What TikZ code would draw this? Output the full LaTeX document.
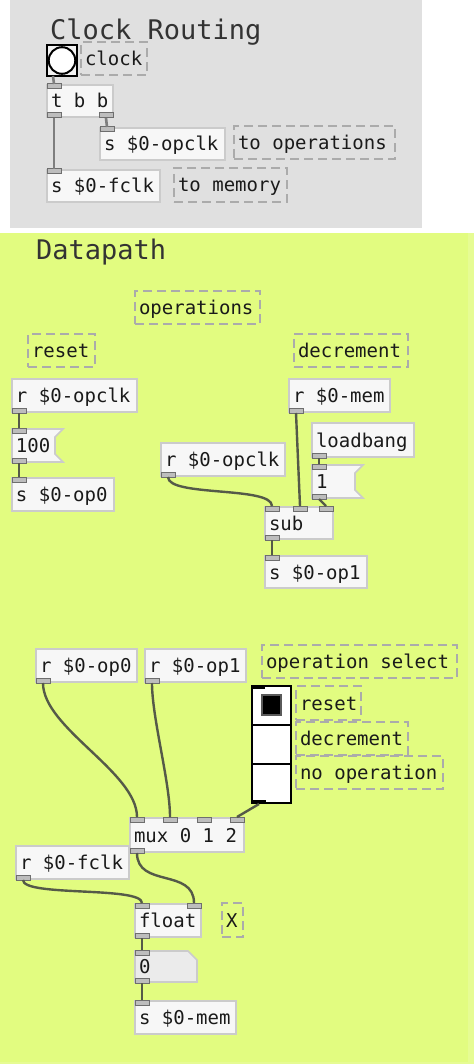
\documentclass[tikz,border=0pt]{standalone}
\usepackage{fontspec}
\newfontfamily\pdmono{DejaVu Sans Mono}
\usetikzlibrary{calc}
\definecolor{grayc}{HTML}{E0E0E0}
\definecolor{yelc}{HTML}{E2FC80}
\definecolor{boxfill}{HTML}{F7F7F7}
\definecolor{boxline}{HTML}{CBCBCB}
\definecolor{cmtline}{HTML}{ABABAB}
\definecolor{portfill}{HTML}{BDBDBD}
\definecolor{portline}{HTML}{6E6E6E}
\definecolor{cordy}{HTML}{555A48}
\definecolor{cordg}{HTML}{7E7E7E}
\definecolor{txt}{HTML}{1A1A1A}
\definecolor{titlec}{HTML}{333333}
\definecolor{atomfill}{HTML}{EBEBEB}
\definecolor{bangfill}{HTML}{F2F2F2}
\pgfdeclarelayer{canvas}
\pgfdeclarelayer{shapes}
\pgfsetlayers{canvas,shapes,main}
\tikzset{
  pdtext/.style={anchor=north west, inner xsep=4pt, inner ysep=0pt, outer sep=0pt,
    text height=17pt, text depth=3pt, align=left,
    font=\pdmono\fontsize{19}{22}\selectfont, text=txt},
  sz/.style 2 args={text width=#1, minimum height=#2},
  obj/.style={pdtext, draw=boxline, fill=boxfill, line width=1.6pt},
  cmt/.style={pdtext, draw=cmtline, line width=1.5pt, dash pattern=on 9pt off 5pt},
  msg/.style={pdtext},
  port/.style={draw=portline, fill=portfill, line width=1pt},
  cord/.style={draw=cordy, line width=2.4pt},
  gcord/.style={draw=cordg, line width=2.6pt},
  shapeline/.style={draw=boxline, line width=1.6pt, line join=miter},
  title/.style={anchor=base west, inner sep=0pt, font=\pdmono\fontsize{27}{30}\selectfont, text=titlec},
}
\newcommand\pdsp{\hspace*{0.6021em}}
\newcommand\inport[2]{\draw[port] ($(#1.north west)+(#2,-1)$) rectangle ++(14,5);}
\newcommand\outport[2]{\draw[port] ($(#1.south west)+(#2,-4)$) rectangle ++(14,5);}
\begin{document}
\begin{tikzpicture}[x=1pt,y=-1pt]
\useasboundingbox (0,0) rectangle (474,1064);
\begin{pgfonlayer}{canvas}
\fill[white] (0,0) rectangle (474,1064);
\fill[grayc] (10,0) rectangle (422,228);
\fill[yelc!85!white] (0,233) rectangle (474,1064);
\fill[yelc] (0,233) rectangle (468,1062);
\end{pgfonlayer}

% ---------- Clock Routing ----------
\node[title] (t1) at (50,40) {Clock\pdsp Routing};
\node[draw=black, line width=2.5pt, fill=bangfill, minimum width=30pt, minimum height=31pt,
      anchor=north west, inner sep=0pt, outer sep=0pt] (bang) at (47,45) {};
\draw[black, line width=2pt, fill=white] (bang.center) circle (13.3);
\node[cmt, sz={58pt}{33pt}] (cclock) at (81,42) {clock};
\node[obj, sz={58pt}{32pt}] (tbb) at (47,85) {t\pdsp b\pdsp b};
\node[obj, sz={117pt}{32pt}] (sopclk) at (100,128) {s\pdsp\$0-opclk};
\node[cmt, sz={153pt}{33pt}] (ctoops) at (234,126) {to\pdsp operations};
\node[obj, sz={105pt}{32pt}] (sfclk) at (47,170) {s\pdsp\$0-fclk};
\node[cmt, sz={105pt}{34pt}] (ctomem) at (174,168) {to\pdsp memory};

\inport{tbb}{0} \outport{tbb}{0} \outport{tbb}{52}
\inport{sopclk}{0} \inport{sfclk}{0}

\draw[gcord] ($(bang.south west)+(6,0)$) -- ($(tbb.north west)+(7,-1)$);
\draw[gcord] ($(tbb.south west)+(7,1)$) -- ($(sfclk.north west)+(7,-1)$);
\draw[gcord] ($(tbb.south east)+(-7,1)$) -- ($(sopclk.north west)+(7,-1)$);

% ---------- Datapath ----------
\node[title] (t2) at (36,260) {Datapath};
\node[cmt, sz={117pt}{33pt}] (cops) at (135,291) {operations};
\node[cmt, sz={59pt}{33pt}] (creset) at (28,334) {reset};
\node[cmt, sz={106pt}{33pt}] (cdec) at (294,334) {decrement};
\node[obj, sz={117pt}{33pt}] (ropa) at (12,379) {r\pdsp\$0-opclk};
\node[msg, sz={43pt}{33pt}] (m100) at (12,429) {100};
\node[obj, sz={94pt}{33pt}] (sop0) at (12,478) {s\pdsp\$0-op0};
\node[obj, sz={93pt}{33pt}] (rmem) at (289,379) {r\pdsp\$0-mem};
\node[obj, sz={94pt}{34pt}] (lb) at (312,423) {loadbang};
\node[msg, sz={43pt}{33pt}] (m1) at (312,465) {1};
\node[obj, sz={116pt}{33pt}] (ropb) at (161,443) {r\pdsp\$0-opclk};
\node[obj, sz={60pt}{32pt}] (sub) at (265,507) {sub};
\node[obj, sz={94pt}{32pt}] (sop1) at (265,556) {s\pdsp\$0-op1};

\node[obj, sz={93pt}{33pt}] (rop0) at (36,649) {r\pdsp\$0-op0};
\node[obj, sz={93pt}{33pt}] (rop1) at (145,649) {r\pdsp\$0-op1};
\node[cmt, sz={187pt}{33pt}] (csel) at (262,645) {operation\pdsp select};
\node[draw=black, line width=2.2pt, fill=white, minimum width=39pt, minimum height=117pt,
      anchor=north west, inner sep=0pt, outer sep=0pt] (vr) at (252,686) {};
\draw[black, line width=2pt] ($(vr.north west)+(0,39)$) -- ($(vr.north east)+(0,39)$);
\draw[black, line width=2pt] ($(vr.north west)+(0,78)$) -- ($(vr.north east)+(0,78)$);
\draw[draw={rgb,255:red,90;green,90;blue,90}, fill=black, line width=1.5pt]
      ($(vr.north west)+(10,9)$) rectangle ++(19,20);
\fill[black] ($(vr.north west)+(0,-1)$) rectangle ++(13,4);
\fill[black] ($(vr.south west)+(0,-3)$) rectangle ++(14,4);
\node[cmt, sz={57pt}{34pt}] (creset2) at (296,686) {reset};
\node[cmt, sz={104pt}{33pt}] (cdec2) at (296,722) {decrement};
\node[cmt, sz={139pt}{33pt}] (cnoop) at (296,756) {no\pdsp operation};
\node[obj, sz={106pt}{34pt}] (mux) at (130,818) {mux\pdsp 0\pdsp 1\pdsp 2};
\node[obj, sz={105pt}{33pt}] (rfclk) at (16,846) {r\pdsp\$0-fclk};
\node[obj, sz={58pt}{33pt}] (flt) at (135,904) {float};
\node[cmt, sz={13pt}{34pt}] (cx) at (222,903) {X};
\node[msg, sz={54pt}{31pt}] (atom) at (135,951) {0};
\node[obj, sz={93pt}{33pt}] (smem) at (135,1001) {s\pdsp\$0-mem};

% message and atom shapes
\begin{pgfonlayer}{shapes}
\draw[shapeline, fill=boxfill] (m100.north west) -- (m100.north east) -- ($(m100.north east)+(-8,8)$)
   -- ($(m100.south east)+(-8,-8)$) -- (m100.south east) -- (m100.south west) -- cycle;
\draw[shapeline, fill=boxfill] (m1.north west) -- (m1.north east) -- ($(m1.north east)+(-8,8)$)
   -- ($(m1.south east)+(-8,-8)$) -- (m1.south east) -- (m1.south west) -- cycle;
\draw[shapeline, fill=atomfill] (atom.north west) -- ($(atom.north east)+(-9,0)$) -- ($(atom.north east)+(0,9)$)
   -- (atom.south east) -- (atom.south west) -- cycle;
\end{pgfonlayer}

% ports
\outport{ropa}{0}
\inport{m100}{0} \outport{m100}{0}
\inport{sop0}{0}
\outport{rmem}{0}
\outport{lb}{0}
\inport{m1}{0} \outport{m1}{0}
\outport{ropb}{0}
\inport{sub}{0} \inport{sub}{28} \inport{sub}{54} \outport{sub}{0}
\inport{sop1}{0}
\outport{rop0}{0} \outport{rop1}{0}
\inport{mux}{0} \inport{mux}{33} \inport{mux}{67} \inport{mux}{100} \outport{mux}{0}
\outport{rfclk}{0}
\inport{flt}{0} \inport{flt}{52} \outport{flt}{0}
\inport{atom}{0} \outport{atom}{0}
\inport{smem}{0}

% cords
\draw[cord] ($(ropa.south west)+(7,1)$) -- ($(m100.north west)+(7,-1)$);
\draw[cord] ($(m100.south west)+(7,1)$) -- ($(sop0.north west)+(7,-1)$);
\draw[cord] ($(ropb.south west)+(7,1)$) .. controls +(0,20) and +(0,-20) .. ($(sub.north west)+(7,-1)$);
\draw[cord] ($(rmem.south west)+(7,1)$) -- ($(sub.north west)+(35,-1)$);
\draw[cord] ($(lb.south west)+(7,1)$) -- ($(m1.north west)+(7,-1)$);
\draw[cord] ($(m1.south west)+(7,1)$) -- ($(sub.north east)+(-7,-1)$);
\draw[cord] ($(sub.south west)+(7,1)$) -- ($(sop1.north west)+(7,-1)$);
\draw[cord] ($(rop0.south west)+(7,1)$) .. controls +(0,45) and +(0,-45) .. ($(mux.north west)+(7,-1)$);
\draw[cord] ($(rop1.south west)+(7,1)$) .. controls +(0,35) and +(0,-35) .. ($(mux.north west)+(40,-1)$);
\draw[cord] ($(vr.south west)+(7,1)$) -- ($(mux.north east)+(-7,-1)$);
\draw[cord] ($(rfclk.south west)+(7,1)$) .. controls +(0,17) and +(0,-17) .. ($(flt.north west)+(7,-1)$);
\draw[cord] ($(mux.south west)+(7,1)$) .. controls +(0,35) and +(0,-35) .. ($(flt.north east)+(-7,-1)$);
\draw[cord] ($(flt.south west)+(7,1)$) -- ($(atom.north west)+(7,-1)$);
\draw[cord] ($(atom.south west)+(7,1)$) -- ($(smem.north west)+(7,-1)$);
\end{tikzpicture}
\end{document}
